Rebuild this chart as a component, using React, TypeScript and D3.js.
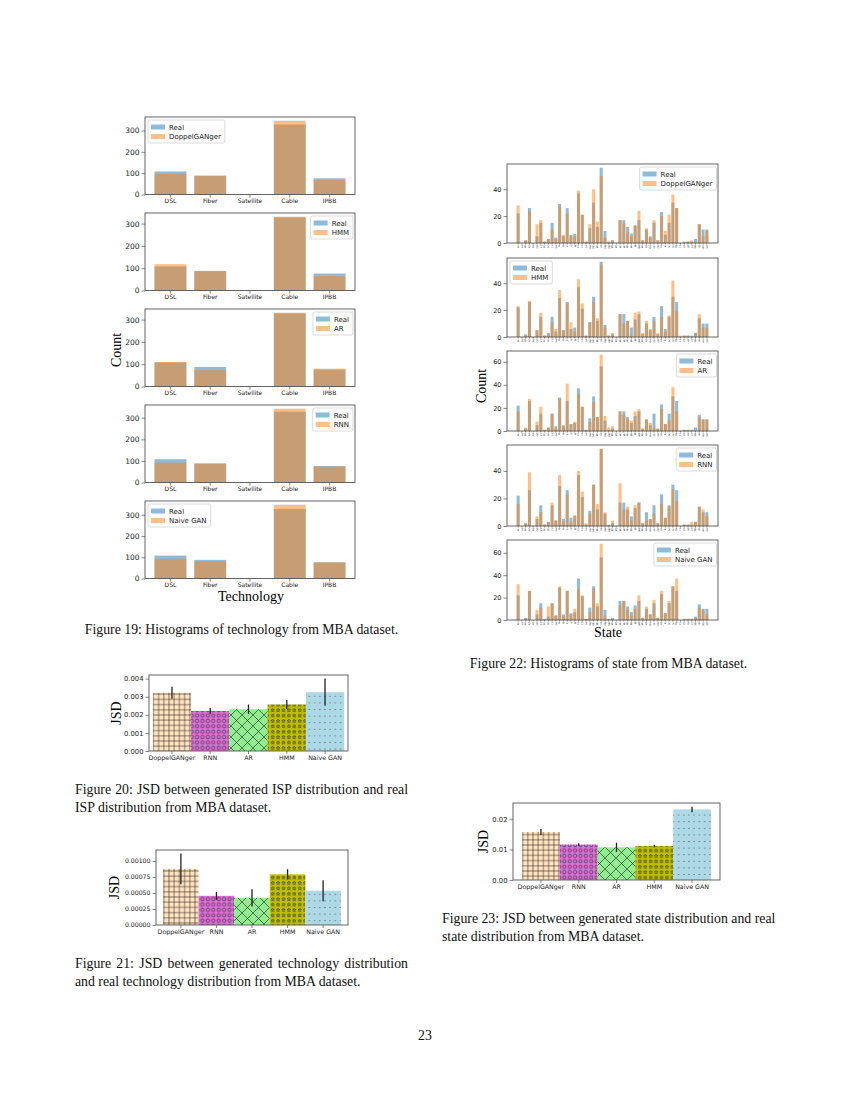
import React, { useEffect, useRef } from 'react'
import * as d3 from 'd3'

// Figure 19: technology histograms
const techCategories = ['DSL', 'Fiber', 'Satellite', 'Cable', 'IPBB']
const techReal = [108, 88, 1, 328, 76]
const techDoppelGANger = [97, 88, 0, 346, 68]
const techHMM = [118, 86, 0, 331, 65]
const techAR = [110, 73, 0, 331, 80]
const techRNN = [92, 88, 0, 342, 74]
const techNaiveGAN = [93, 81, 0, 348, 76]

// Figure 22: state histograms
const stateCodes = ['AK', 'AL', 'AR', 'AZ', 'CA', 'CO', 'CT', 'DC', 'DE', 'FL', 'GA', 'HI', 'IA', 'ID', 'IL', 'IN', 'KS', 'KY', 'LA', 'MA', 'MD', 'ME', 'MI', 'MN', 'MO', 'MS', 'MT', 'NC', 'ND', 'NE', 'NH', 'NJ', 'NM', 'NV', 'NY', 'OH', 'OK', 'OR', 'PA', 'RI', 'SC', 'SD', 'TN', 'TX', 'UT', 'VA', 'VT', 'WA', 'WI', 'WV', 'WY']
const stateReal = [22, 0, 2, 26, 0, 5, 15, 1, 3, 15, 4, 29, 5, 26, 6, 7, 37, 21, 1, 11, 30, 12, 56, 9, 1, 2, 0, 17, 17, 12, 7, 13, 17, 2, 10, 5, 15, 2, 23, 6, 15, 30, 26, 0, 1, 1, 1, 3, 14, 10, 10]
const stateDoppelGANger = [28, 0, 2, 24, 0, 14, 17, 1, 3, 10, 3, 27, 6, 22, 5, 5, 39, 21, 1, 14, 40, 16, 50, 4, 1, 2, 0, 17, 14, 8, 5, 13, 24, 2, 11, 4, 17, 2, 20, 9, 21, 36, 26, 0, 0, 1, 2, 1, 14, 5, 9]
const stateHMM = [23, 0, 1, 27, 0, 5, 18, 1, 2, 11, 6, 35, 5, 25, 11, 4, 43, 25, 1, 11, 26, 14, 54, 7, 1, 3, 0, 17, 10, 12, 1, 18, 19, 3, 12, 6, 12, 3, 15, 4, 16, 42, 19, 1, 1, 1, 0, 3, 17, 7, 7]
const stateAR = [17, 0, 3, 28, 0, 8, 21, 1, 3, 15, 2, 28, 4, 41, 6, 8, 32, 21, 1, 8, 25, 12, 66, 13, 3, 4, 0, 17, 14, 10, 9, 17, 19, 2, 10, 7, 3, 2, 19, 6, 9, 38, 17, 0, 1, 1, 1, 0, 12, 10, 10]
const stateRNN = [16, 0, 2, 39, 0, 7, 10, 1, 3, 17, 4, 37, 3, 23, 3, 8, 40, 25, 2, 9, 30, 16, 56, 10, 0, 4, 0, 31, 12, 14, 4, 15, 17, 2, 4, 5, 9, 2, 16, 6, 14, 27, 18, 0, 1, 1, 3, 3, 14, 12, 7]
const stateNaiveGAN = [32, 0, 1, 26, 0, 9, 11, 0, 12, 15, 4, 30, 3, 26, 5, 10, 28, 22, 1, 7, 28, 15, 68, 4, 0, 1, 0, 13, 17, 9, 4, 10, 22, 2, 12, 5, 18, 2, 26, 6, 17, 30, 37, 0, 0, 1, 1, 2, 11, 9, 5]

// Figures 20, 21, 23: JSD bars
const models = ['DoppelGANger', 'RNN', 'AR', 'HMM', 'Naive GAN']
const jsdIsp = [0.00322, 0.00221, 0.00231, 0.00257, 0.00325]
const jsdIspErr = [0.00033, 0.00017, 0.00026, 0.00025, 0.00075]
const jsdIspTicks = [0, 0.001, 0.002, 0.003, 0.004]
const jsdTech = [0.000875, 0.000455, 0.000425, 0.00079, 0.000535]
const jsdTechErr = [0.00024, 0.00006, 0.000135, 0.00008, 0.000165]
const jsdTechTicks = [0, 0.00025, 0.0005, 0.00075, 0.001]
const jsdState = [0.0157, 0.0116, 0.0107, 0.0111, 0.0231]
const jsdStateErr = [0.001, 0.0004, 0.0015, 0.0004, 0.0009]
const jsdStateTicks = [0, 0.01, 0.02]

const SANS = 'DejaVu Sans, sans-serif'
const SERIF = 'Liberation Serif, Times New Roman, serif'
const REAL_COLOR = '#1f77b4'
const GEN_COLOR = '#ff7f0e'
const SPINE = '#555'
const CAPTION_SIZE = 13.8

const App: React.FC = () => {
    const ref = useRef<SVGSVGElement | null>(null)

    useEffect(() => {
        if (!ref.current) return
        const svg = d3.select(ref.current)
        svg.selectAll('*').remove()

        // hatch patterns
        const defs = svg.append('defs')
        const pat = (id: string, w: number, h: number, bg: string) => {
            const p = defs.append('pattern').attr('id', id).attr('patternUnits', 'userSpaceOnUse').attr('width', w).attr('height', h)
            p.append('rect').attr('width', w).attr('height', h).attr('fill', bg)
            return p
        }
        pat('h-plus', 5.2, 5.2, '#ffe4c4')
            .append('path').attr('d', 'M2.6,0V5.2M0,2.6H5.2').attr('stroke', '#3a2a1a').attr('stroke-width', 0.6)
        pat('h-circle', 5.4, 5.4, '#da70d6')
            .append('circle').attr('cx', 2.7).attr('cy', 2.7).attr('r', 1.7).attr('fill', 'none').attr('stroke', '#222').attr('stroke-width', 0.55)
        pat('h-cross', 11, 11, '#90ee90')
            .append('path').attr('d', 'M0,0L11,11M11,0L0,11').attr('stroke', '#222').attr('stroke-width', 0.6)
        const starPts = d3.range(10).map(k => {
            const r = k % 2 === 0 ? 1.9 : 0.8
            const a = -Math.PI / 2 + k * Math.PI / 5
            return [2.7 + r * Math.cos(a), 2.8 + r * Math.sin(a)].join(',')
        }).join(' ')
        pat('h-star', 5.4, 5.4, '#bfbf00')
            .append('polygon').attr('points', starPts).attr('fill', 'none').attr('stroke', '#222').attr('stroke-width', 0.5)
        pat('h-dot', 5.2, 6.6, '#add8e6')
            .append('circle').attr('cx', 2.6).attr('cy', 3.3).attr('r', 0.55).attr('fill', '#333')
        const hatchIds = ['h-plus', 'h-circle', 'h-cross', 'h-star', 'h-dot']

        const frame = (x0: number, x1: number, y0: number, y1: number) => {
            svg.append('rect').attr('x', x0).attr('y', y0).attr('width', x1 - x0).attr('height', y1 - y0)
                .attr('fill', 'none').attr('stroke', SPINE).attr('stroke-width', 0.9)
        }

        const styleAxis = (g: d3.Selection<SVGGElement, unknown, null, undefined>, size: number) => {
            g.select('.domain').remove()
            g.selectAll('.tick line').attr('stroke', SPINE).attr('stroke-width', 0.7)
            g.selectAll('.tick text').attr('fill', '#222').attr('font-size', size).attr('font-family', SANS)
        }

        const drawLegend = (names: string[], x: number, y: number, alignRight: boolean) => {
            const lg = svg.append('g')
            const box = lg.append('rect').attr('rx', 2).attr('fill', 'white').attr('fill-opacity', 0.85)
                .attr('stroke', '#ccc').attr('stroke-width', 0.7)
            let maxW = 0
            names.forEach((n, i) => {
                lg.append('rect').attr('x', 3).attr('y', 4.5 + i * 9.5).attr('width', 14).attr('height', 5)
                    .attr('fill', i === 0 ? REAL_COLOR : GEN_COLOR).attr('fill-opacity', 0.5)
                const t = lg.append('text').attr('x', 21).attr('y', 9.8 + i * 9.5)
                    .attr('font-family', SANS).attr('font-size', 7).attr('fill', '#222').text(n)
                maxW = Math.max(maxW, (t.node() as SVGTextElement).getComputedTextLength())
            })
            const w = 21 + maxW + 4
            box.attr('width', w).attr('height', 23)
            lg.attr('transform', `translate(${alignRight ? x - w : x},${y})`)
        }

        // Figure 19
        const techPanels = [
            { name: 'DoppelGANger', values: techDoppelGANger, top: 117, right: false },
            { name: 'HMM', values: techHMM, top: 213, right: true },
            { name: 'AR', values: techAR, top: 309, right: true },
            { name: 'RNN', values: techRNN, top: 405, right: true },
            { name: 'Naive GAN', values: techNaiveGAN, top: 501, right: false },
        ]
        const tL = 145, tR = 355, tH = 77.5
        techPanels.forEach(p => {
            const bottom = p.top + tH
            const x = d3.scaleBand().domain(techCategories).range([tL, tR]).paddingInner(0.2).paddingOuter(0.24)
            const y = d3.scaleLinear().domain([0, (d3.max([...techReal, ...p.values]) as number) * 1.05]).range([bottom, p.top])
            ;[techReal, p.values].forEach((vals, si) => {
                svg.append('g').selectAll('rect').data(vals).join('rect')
                    .attr('x', (_, i) => x(techCategories[i]) as number)
                    .attr('width', x.bandwidth())
                    .attr('y', d => y(d))
                    .attr('height', d => bottom - y(d))
                    .attr('fill', si === 0 ? REAL_COLOR : GEN_COLOR)
                    .attr('fill-opacity', 0.5)
            })
            svg.append('g').attr('transform', `translate(${tL},0)`)
                .call(d3.axisLeft(y).ticks(4).tickSize(3.5).tickPadding(2))
                .call(g => styleAxis(g, 7.5))
            svg.append('g').attr('transform', `translate(0,${bottom})`)
                .call(d3.axisBottom(x).tickSize(3).tickPadding(1))
                .call(g => styleAxis(g, 6))
            frame(tL, tR, p.top, bottom)
            drawLegend(['Real', p.name], p.right ? tR - 2 : tL + 3, p.top + 3, p.right)
        })
        svg.append('text').attr('transform', 'translate(121,350) rotate(-90)').attr('text-anchor', 'middle')
            .attr('font-family', SERIF).attr('font-size', 14).text('Count')
        svg.append('text').attr('x', 251).attr('y', 601).attr('text-anchor', 'middle')
            .attr('font-family', SERIF).attr('font-size', 14).text('Technology')

        // Figure 22
        const statePanels = [
            { name: 'DoppelGANger', values: stateDoppelGANger, top: 164, bottom: 243, right: true },
            { name: 'HMM', values: stateHMM, top: 258, bottom: 337, right: false },
            { name: 'AR', values: stateAR, top: 351, bottom: 431, right: true },
            { name: 'RNN', values: stateRNN, top: 445, bottom: 526, right: true },
            { name: 'Naive GAN', values: stateNaiveGAN, top: 540, bottom: 620, right: true },
        ]
        const sL = 507, sR = 718
        statePanels.forEach(p => {
            const x = d3.scaleBand().domain(stateCodes).range([sL, sR]).paddingInner(0.2).paddingOuter(2.55)
            const y = d3.scaleLinear().domain([0, (d3.max([...stateReal, ...p.values]) as number) * 1.05]).range([p.bottom, p.top])
            ;[stateReal, p.values].forEach((vals, si) => {
                svg.append('g').selectAll('rect').data(vals).join('rect')
                    .attr('x', (_, i) => x(stateCodes[i]) as number)
                    .attr('width', x.bandwidth())
                    .attr('y', d => y(d))
                    .attr('height', d => p.bottom - y(d))
                    .attr('fill', si === 0 ? REAL_COLOR : GEN_COLOR)
                    .attr('fill-opacity', 0.5)
            })
            svg.append('g').attr('transform', `translate(${sL},0)`)
                .call(d3.axisLeft(y).ticks(3).tickSize(3.5).tickPadding(2))
                .call(g => styleAxis(g, 6.5))
            svg.append('g').attr('transform', `translate(0,${p.bottom})`)
                .call(d3.axisBottom(x).tickSize(1.5).tickPadding(1))
                .call(g => styleAxis(g, 2.2))
                .call(g => g.selectAll('.tick text').attr('transform', 'rotate(-90)').attr('text-anchor', 'end')
                    .attr('x', -2).attr('y', 0).attr('dy', '0.35em'))
            frame(sL, sR, p.top, p.bottom)
            drawLegend(['Real', p.name], p.right ? sR - 1.5 : sL + 3, p.top + 3, p.right)
        })
        svg.append('text').attr('transform', 'translate(486,386) rotate(-90)').attr('text-anchor', 'middle')
            .attr('font-family', SERIF).attr('font-size', 14).text('Count')
        svg.append('text').attr('x', 608).attr('y', 637).attr('text-anchor', 'middle')
            .attr('font-family', SERIF).attr('font-size', 14).text('State')

        // JSD bar charts
        const drawJsd = (left: number, right: number, top: number, bottom: number, vals: number[], errs: number[],
            ticks: number[], fmt: string, padOuter: number, labelX: number, tickSize: number) => {
            const x = d3.scaleBand().domain(models).range([left, right]).paddingInner(0).paddingOuter(padOuter)
            const yMax = (d3.max(vals.map((v, i) => v + errs[i])) as number) * 1.05
            const y = d3.scaleLinear().domain([0, yMax]).range([bottom, top])
            svg.append('g').selectAll('rect').data(vals).join('rect')
                .attr('x', (_, i) => x(models[i]) as number)
                .attr('width', x.bandwidth())
                .attr('y', d => y(d))
                .attr('height', d => bottom - y(d))
                .attr('fill', (_, i) => `url(#${hatchIds[i]})`)
            svg.append('g').selectAll('line').data(vals).join('line')
                .attr('x1', (_, i) => (x(models[i]) as number) + x.bandwidth() / 2)
                .attr('x2', (_, i) => (x(models[i]) as number) + x.bandwidth() / 2)
                .attr('y1', (d, i) => y(d - errs[i]))
                .attr('y2', (d, i) => y(d + errs[i]))
                .attr('stroke', '#222').attr('stroke-width', 1.3)
            svg.append('g').attr('transform', `translate(${left},0)`)
                .call(d3.axisLeft(y).tickValues(ticks).tickFormat(d3.format(fmt)).tickSize(3.5).tickPadding(2))
                .call(g => styleAxis(g, tickSize))
            svg.append('g').attr('transform', `translate(0,${bottom})`)
                .call(d3.axisBottom(x).tickSize(3).tickPadding(1.5))
                .call(g => styleAxis(g, 6.3))
            frame(left, right, top, bottom)
            svg.append('text').attr('transform', `translate(${labelX},${(top + bottom) / 2}) rotate(-90)`)
                .attr('text-anchor', 'middle').attr('dy', '0.35em')
                .attr('font-family', SERIF).attr('font-size', 14).text('JSD')
        }
        drawJsd(149, 348, 675, 751, jsdIsp, jsdIspErr, jsdIspTicks, '.3f', 0.1, 116, 6.8)
        drawJsd(156, 348, 850, 925, jsdTech, jsdTechErr, jsdTechTicks, '.5f', 0.2, 114, 6.2)
        drawJsd(513, 720, 803, 880, jsdState, jsdStateErr, jsdStateTicks, '.2f', 0.24, 483, 6.8)

        // captions: single lines are centred in their column, first lines of longer captions are justified
        const caption = (x: number, y: number, text: string, mode: 'left' | 'center' | 'justify', width = 333) => {
            const t = svg.append('text').attr('y', y).attr('font-family', SERIF).attr('font-size', CAPTION_SIZE)
                .attr('fill', '#111').text(text)
            if (mode === 'center') {
                t.attr('x', x + width / 2).attr('text-anchor', 'middle')
            } else {
                t.attr('x', x)
                if (mode === 'justify') {
                    const natural = (t.node() as SVGTextElement).getComputedTextLength()
                    const spaces = text.split(' ').length - 1
                    if (spaces > 0 && natural < width) t.attr('word-spacing', (width - natural) / spaces)
                }
            }
        }
        caption(75, 634, 'Figure 19: Histograms of technology from MBA dataset.', 'center')
        caption(442, 668, 'Figure 22: Histograms of state from MBA dataset.', 'center')
        caption(75, 794, 'Figure 20: JSD between generated ISP distribution and real', 'justify')
        caption(75, 812, 'ISP distribution from MBA dataset.', 'left')
        caption(75, 968, 'Figure 21: JSD between generated technology distribution', 'justify')
        caption(75, 986, 'and real technology distribution from MBA dataset.', 'left')
        caption(442, 923, 'Figure 23: JSD between generated state distribution and real', 'justify')
        caption(442, 941, 'state distribution from MBA dataset.', 'left')
        svg.append('text').attr('x', 425).attr('y', 1040).attr('text-anchor', 'middle')
            .attr('font-family', SERIF).attr('font-size', CAPTION_SIZE).attr('fill', '#111').text('23')
    }, [])

    return <svg ref={ref} width={850} height={1100} style={{ position: 'absolute', left: 0, top: 0, background: '#fff' }}></svg>
}

export default App
